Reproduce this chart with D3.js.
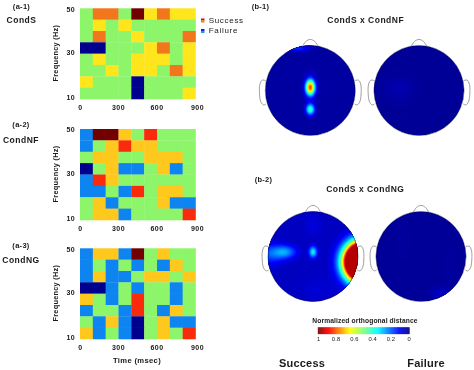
<!DOCTYPE html>
<html><head><meta charset="utf-8">
<script src="https://cdn.jsdelivr.net/npm/d3@7"></script>
<style>html,body{margin:0;padding:0;background:#fff}svg{display:block}text{font-family:"Liberation Sans",Arial,sans-serif;fill:#1a1a1a}</style>
</head><body><svg id="c" width="474" height="370"></svg>
<script>
const times=[0,100,200,300,400,500,600,700,800];
const freqsTop=[45,40,35,30,25,20,15,10];
// level codes: -2 navy, -1 blue, 0 green, 1 yellow, 2 amber, 3 orange, 4 red, 5 dark red
const condS=[
[0,3,3,0,5,1,3,1,1],
[0,1,0,1,0,0,0,0,0],
[0,3,0,0,1,0,0,0,3],
[-2,-2,0,0,0,1,3,0,1],
[0,1,0,0,1,1,1,0,1],
[0,0,1,0,1,1,0,3,1],
[1,0,0,0,-2,0,0,0,0],
[0,0,0,0,-2,0,0,0,1]];
const condNF=[
[-1,5,5,2,0,4,0,0,0],
[-1,0,2,4,2,2,0,0,0],
[0,2,2,0,0,2,2,2,0],
[-2,0,2,-1,-1,0,2,-1,0],
[-1,4,2,0,0,0,0,0,0],
[-1,-1,0,-1,4,0,2,2,0],
[0,2,-1,0,0,0,2,-1,-1],
[0,2,2,-1,0,0,0,0,4]];
const condNG=[
[-1,2,2,-1,5,0,2,0,0],
[-1,0,-1,0,-1,0,-1,2,0],
[-1,2,-1,-1,0,2,2,0,2],
[-2,-2,-1,0,-1,0,0,-1,0],
[2,0,-1,0,4,0,0,-1,0],
[-1,0,0,-1,4,0,-1,2,0],
[0,-1,2,-1,-2,0,2,-1,-1],
[2,-1,0,-1,-2,0,2,0,4]];
const levels=[-2,-1,0,1,2,3,4,5];
const levelColors=["#00048f","#0a84f0","#8cf56a","#ffe61e","#ffc81a","#f2761a","#fa2a10","#720000"];
const xTicks=[0,300,600,900];
const yTicks=[10,30,50];
// topographic sources: [x, y, amplitude, sigmaX, sigmaY] in head units
const b1Success=[[0,-.07,.72,.065,.11],[0,.42,.4,.065,.085],[-.3,-.94,.14,.2,.05],[0,-.07,.1,.1,.2]];
const b1Failure=[[-.45,-.05,.03,.28,.22],[-.35,.62,.012,.12,.07]];
const b2Success=[[1.1,.12,3.2,.24,.26],[0,-.1,.3,.06,.085],[-.62,-.1,.2,.17,.1],[-.95,-.06,.14,.2,.16],[0,-.7,.03,.15,.2],[.1,.75,.025,.3,.2]];
const b2Failure=[[.45,.82,.05,.18,.12],[.65,.3,.008,.15,.4],[-.4,-.35,.01,.14,.35]];
const jetStops=[0,.11,.35,.5,.65,.89,1];
const jetColors=["#00008c","#0000ff","#00ffff","#7fff7f","#ffff00","#ff0000","#7f0000"];
const barTicks=[1,.8,.6,.4,.2,0];
const barTickLabels=["1","0.8","0.6","0.4","0.2","0"];
const earPts=[[-.99,-.22],[-1.07,-.23],[-1.12,-.14],[-1.13,.05],[-1.1,.25],[-1.04,.32],[-.985,.3]];
const nosePts=[[-.17,-.985],[-.1,-1.09],[0,-1.135],[.1,-1.09],[.17,-.985]];

const svg=d3.select("#c");
const defs=svg.append("defs");
defs.append("filter").attr("id","soft").attr("x","-5%").attr("y","-5%").attr("width","110%").attr("height","110%")
  .append("feGaussianBlur").attr("stdDeviation",.4);
const root=svg.append("g").attr("filter","url(#soft)");
const txt=(x,y,s,size,o={})=>root.append("text").attr("x",x).attr("y",y).attr("font-size",size)
  .attr("font-weight",o.weight||"bold").attr("text-anchor",o.anchor||"middle").attr("dominant-baseline","middle")
  .attr("letter-spacing",o.ls||0).attr("transform",o.rot?`rotate(${o.rot},${x},${y})`:null).text(s);

const color=d3.scaleOrdinal(levels,levelColors);
function heat(top,bottom,grid){
  const x=d3.scaleLinear([0,900],[80,195.5]);
  const y=d3.scaleLinear([10,50],[bottom,top]);
  const g=root.append("g");
  grid.forEach((row,r)=>row.forEach((v,c)=>{
    g.append("rect").attr("x",x(times[c])).attr("y",y(freqsTop[r]+5))
     .attr("width",x(times[c]+100)-x(times[c])+.3).attr("height",y(freqsTop[r])-y(freqsTop[r]+5)+.3)
     .attr("fill",color(v));
  }));
  xTicks.forEach(t=>txt(x(t)+(t===0?.5:t===900?2:0),bottom+9,t,7,{ls:.4}));
  yTicks.forEach(t=>txt(75,y(t)+(t===50?1.5:t===10?-.5:0),t,7,{anchor:"end",ls:.4}));
  txt(56.5,(top+bottom)/2-.5,"Frequency (Hz)",7.3,{rot:-90,ls:.3});
}
heat(8.3,99,condS);heat(129,220,condNF);heat(248.3,339,condNG);

txt(21.5,7.5,"(a-1)",7.5,{ls:.3});txt(21.5,21,"CondS",8.5,{ls:.5});
txt(21,125.5,"(a-2)",7.5,{ls:.3});txt(21,141,"CondNF",8.5,{ls:.5});
txt(21,246,"(a-3)",7.5,{ls:.3});txt(21,261,"CondNG",8.5,{ls:.5});
txt(137,361,"Time (msec)",7.6,{ls:.35});
// legend
root.append("rect").attr("x",201).attr("y",18.5).attr("width",3.5).attr("height",2).attr("fill","#d81010");
root.append("rect").attr("x",201).attr("y",20.5).attr("width",3.5).attr("height",2).attr("fill","#f08010");
root.append("rect").attr("x",201).attr("y",29).attr("width",3.5).attr("height",2).attr("fill","#0a2ad0");
root.append("rect").attr("x",201).attr("y",31).attr("width",3.5).attr("height",2).attr("fill","#10a0f0");
txt(208.7,20.5,"Success",8,{anchor:"start",weight:"normal",ls:.7});
txt(208.7,31.3,"Failure",8,{anchor:"start",weight:"normal",ls:.7});

const jet=d3.scaleLinear(jetStops,jetColors).clamp(true);
const N=150;
function field(src,base,cap){
  const vals=new Array(N*N);
  for(let j=0;j<N;j++)for(let i=0;i<N;i++){
    const ux=(i+.5)/N*2.2-1.1,uy=(j+.5)/N*2.2-1.1;
    let v=base;
    for(const [sx,sy,a,wx,wy] of src){const dx=(ux-sx)/wx,dy=(uy-sy)/wy;v+=a*Math.exp(-.5*(dx*dx+dy*dy));}
    vals[i+j*N]=Math.min(v,cap);
  }
  return vals;
}
let clipId=0;
function head(cx,cy,r,src,base,faint){
  const g=root.append("g");
  const id="clip"+(++clipId);
  defs.append("clipPath").attr("id",id).append("circle").attr("cx",cx).attr("cy",cy).attr("r",r);
  const k=r*2.2/N;
  const path=d3.geoPath(d3.geoTransform({point(x,y){this.stream.point(cx-1.1*r+x*k,cy-1.1*r+y*k);}}));
  const vals=field(src,base,.96);
  const clip=g.append("g").attr("clip-path",`url(#${id})`);
  clip.append("circle").attr("cx",cx).attr("cy",cy).attr("r",r).attr("fill",jet(base));
  const th=d3.range(base+.004,1,.01);
  const cs=d3.contours().size([N,N]).thresholds(th)(vals);
  clip.selectAll("path.f").data(cs).join("path").attr("class","f").attr("d",path).attr("fill",d=>jet(d.value));
  if(faint){
    const ls=d3.contours().size([N,N]).thresholds(d3.range(base+.004,base+.05,.005))(vals);
    clip.selectAll("path.l").data(ls).join("path").attr("class","l").attr("d",path)
      .attr("fill","none").attr("stroke","#50507f").attr("stroke-opacity",.3).attr("stroke-width",.35);
  }
  g.append("circle").attr("cx",cx).attr("cy",cy).attr("r",r).attr("fill","none").attr("stroke","#10104a").attr("stroke-width",.5);
  const line=d3.line().x(d=>cx+d[0]*r).y(d=>cy+d[1]*r).curve(d3.curveCatmullRom);
  const deco=[earPts,earPts.map(p=>[-p[0],p[1]]),nosePts];
  g.selectAll("path.d").data(deco).join("path").attr("class","d").attr("d",line)
    .attr("fill","none").attr("stroke","#777").attr("stroke-width",.7);
}
head(310.3,90.5,45,b1Success,.02,false);
head(419,90.5,45,b1Failure,.01,true);
head(313,256.5,45,b2Success,.05,false);
head(421,256.5,45,b2Failure,.012,true);

txt(260.5,7.5,"(b-1)",7.5,{ls:.3});
txt(263.5,179.8,"(b-2)",7.5,{ls:.3});
txt(365.7,21,"CondS x CondNF",8.5,{ls:.5});
txt(365.3,190,"CondS x CondNG",8.5,{ls:.5});
txt(365,321,"Normalized orthogonal distance",6.7,{ls:.12});
// colour bar
const bx=d3.scaleLinear([1,0],[317.8,409.3]);
d3.range(0,1,.005).forEach(v=>root.append("rect").attr("x",bx(v+.005)).attr("y",327.3).attr("width",bx(v)-bx(v+.005)+.3).attr("height",6.8).attr("fill",jet(v)));
barTicks.forEach((v,i)=>txt(bx(v)+(i===0?1:0),339.8,barTickLabels[i],5.8,{weight:"normal",ls:.15}));
txt(302,364,"Success",11,{ls:.2});
txt(426,364,"Failure",11,{ls:.2});
</script></body></html>
